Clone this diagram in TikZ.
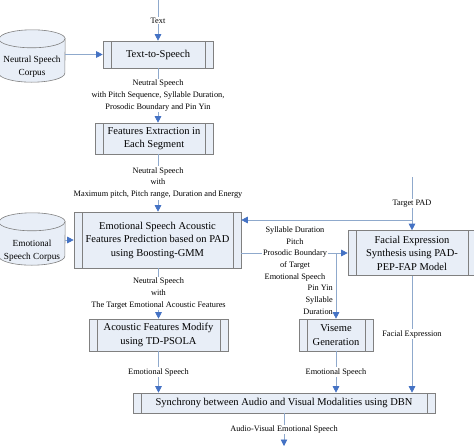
\documentclass[tikz,border=0pt]{standalone}
\usepackage{fontspec}
\setmainfont{Liberation Serif}
\usepackage{tikz}
\usetikzlibrary{shapes.geometric, arrows.meta, positioning, calc}
\definecolor{boxfill}{HTML}{E8EEF7}
\definecolor{boxline}{HTML}{808080}
\definecolor{flowline}{HTML}{8FA9CC}
\definecolor{tipblue}{HTML}{4472C4}

% cylinder drawn round an (invisible) node
\newcommand{\corpusdrum}[1]{%
  \draw[boxline, fill=boxfill, line width=0.6pt]
    ($(#1.north west)+(0,9)$) -- ($(#1.south west)+(0,-9)$)
    arc[start angle=180, end angle=360, x radius=33pt, y radius=9pt]
    -- ($(#1.north east)+(0,9)$)
    arc[start angle=0, end angle=180, x radius=33pt, y radius=9pt] -- cycle;
  \draw[boxline, line width=0.6pt] ($(#1.north west)+(0,9)$)
    arc[start angle=180, end angle=360, x radius=33pt, y radius=9pt];}

\begin{document}
\begin{tikzpicture}[
    x=1pt, y=-1pt,
    flow/.style={draw=flowline, line width=0.6pt},
    arrow/.style={flow, -{Triangle[width=6.5pt, length=6.5pt, color=tipblue]}},
    process/.style={rectangle, draw=boxline, fill=boxfill, line width=0.6pt, align=center, inner sep=0pt,
        font=\fontsize{10.5}{13.5}\selectfont,
        path picture={\draw[boxline, line width=0.6pt]
            ([xshift=8pt]path picture bounding box.north west) -- ([xshift=8pt]path picture bounding box.south west)
            ([xshift=-8pt]path picture bounding box.north east) -- ([xshift=-8pt]path picture bounding box.south east);}},
    corpus/.style={rectangle, minimum width=66pt, minimum height=52pt, inner sep=0pt},
    corpustext/.style={align=center, inner sep=0pt, font=\fontsize{9.3}{12.5}\selectfont},
    lbl/.style={fill=white, align=center, inner sep=1pt, font=\fontsize{8.3}{11.8}\selectfont},
]
\useasboundingbox (0,0) rectangle (474,447);

% boxes
\node[process, minimum width=110pt, minimum height=27pt] (tts) at (158,54.5) {Text-to-Speech};
\node[process, minimum width=118pt, minimum height=31pt] (fe) at (154,138.5) {Features Extraction in\\Each Segment};
\node[process, minimum width=167pt, minimum height=56pt] (esa) at (157.5,240) {Emotional Speech Acoustic\\Features Prediction based on PAD\\using Boosting-GMM};
\node[process, minimum width=139pt, minimum height=32pt] (afm) at (158.5,335) {Acoustic Features Modify\\using TD-PSOLA};
\node[process, minimum width=74pt, minimum height=32pt] (vis) at (336,335) {Viseme\\Generation};
\node[process, minimum width=128pt, minimum height=45pt] (fes) at (412,253) {Facial Expression\\Synthesis using PAD-\\PEP-FAP Model};
\node[process, minimum width=302pt, minimum height=20pt] (sync) at (284,403) {Synchrony between Audio and Visual Modalities using DBN};

% corpora
\node[corpus] (ncorp) at (32,56) {};
\corpusdrum{ncorp}
\node[corpustext] (ncorptext) at (32,67) {Neutral Speech\\Corpus};
\node[corpus] (ecorp) at (32,239) {};
\corpusdrum{ecorp}
\node[corpustext] (ecorptext) at (32,251) {Emotional\\Speech Corpus};

% free ends
\coordinate (textin) at (158,0);
\coordinate (padin) at (412,177);
\coordinate (padsplit) at (412,220);
\coordinate (avout) at (284,446);

% connectors
\draw[arrow] (textin) -- (tts.north) node[lbl, midway] {Text};
\draw[arrow] (ncorp.east |- tts.west) -- (tts.west);
\draw[arrow] (tts.south) -- (tts.south |- fe.north)
    node[lbl, midway] {Neutral Speech\\with Pitch Sequence, Syllable Duration,\\Prosodic Boundary and Pin Yin};
\draw[arrow] (tts.south |- fe.south) -- (tts.south |- esa.north)
    node[lbl, midway] {Neutral Speech\\with\\Maximum pitch, Pitch range, Duration and Energy};
\draw[arrow] (ecorp.east |- esa.west) -- (esa.west);
\draw[arrow] (padin) -- (fes.north) node[lbl, midway] {Target PAD};
\draw[arrow] (padsplit) -- (padsplit -| esa.east);
\draw[arrow] (esa.east |- fes.west) -- (fes.west)
    node[lbl] at (295,254) {Syllable Duration\\Pitch\\Prosodic Boundary\\of Target\\Emotional Speech};
\draw[arrow] (vis.north |- fes.west) -- (vis.north);
\node[lbl, fill=none, anchor=east, align=right] (pinyin) at (334,300) {Pin Yin\\Syllable\\Duration};
\draw[arrow] (esa.south -| afm.north) -- (afm.north)
    node[lbl, midway] {Neutral Speech\\with\\The Target Emotional Acoustic Features};
\draw[arrow] (afm.south) -- (afm.south |- sync.north) node[lbl, midway] {Emotional Speech};
\draw[arrow] (vis.south) -- (vis.south |- sync.north) node[lbl, midway] {Emotional Speech};
\draw[arrow] (fes.south) -- (fes.south |- sync.north) node[lbl, midway] {Facial Expression};
\draw[arrow] (sync.south) -- (avout) node[lbl, midway] {Audio-Visual Emotional Speech};

\end{tikzpicture}
\end{document}
